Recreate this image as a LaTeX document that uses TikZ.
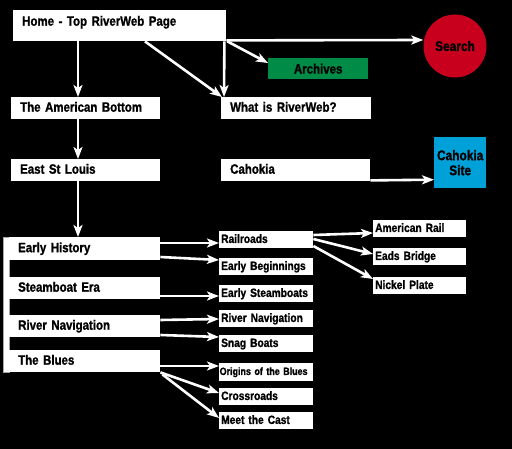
\documentclass[tikz,border=0pt]{standalone}
\usepackage{fontspec}
\setmainfont{Liberation Sans}[FakeStretch=0.85, BoldFeatures={FakeBold=1.2}]
\usetikzlibrary{arrows.meta}

\newcommand{\rwbig}{\fontsize{13.5}{15}\selectfont\bfseries}
\newcommand{\rwhuge}{\fontsize{14}{15}\selectfont\bfseries}
\newcommand{\rwsmall}{\fontsize{12}{13}\selectfont\bfseries}
\newcommand{\rwtiny}{\fontsize{10.5}{12}\selectfont\bfseries}

\definecolor{searchred}{RGB}{200,0,30}
\definecolor{archgreen}{RGB}{0,140,70}
\definecolor{siteblue}{RGB}{0,160,216}

\tikzset{
    mainbox/.style={fill=white, text=black, anchor=north west, font=\rwbig, align=left,
        text width=#1, inner xsep=9pt, inner ysep=5pt, text height=9.5pt, text depth=2.5pt},
    mainbox/.default=131pt,
    subbox/.style={fill=white, text=black, anchor=north west, font=\rwsmall, align=left,
        text width=#1, inner xsep=2pt, inner ysep=2.75pt, text height=9pt, text depth=2.5pt},
    subbox/.default=90pt,
    link/.style={draw=white, line width=2.6pt, -{Stealth[length=12pt,width=9pt,inset=3pt]}},
}

\begin{document}
\begin{tikzpicture}[x=1pt,y=-1pt]
    \fill[black] (0,0) rectangle (512,449);
    \useasboundingbox (0,0) rectangle (512,449);

    % top row
    \node[mainbox=195pt, inner ysep=6pt, text depth=9.5pt] (home) at (13,10) {Home - Top RiverWeb Page};
    \node[circle, fill=searchred, text=black, font=\rwhuge, minimum size=63pt, inner sep=0pt] (search) at (455,46) {Search};
    \node[fill=archgreen, text=black, font=\rwbig, anchor=north west, minimum width=100pt, minimum height=21pt, inner sep=0pt] (arch) at (268,58) {Archives};

    % second and third rows
    \node[mainbox] (amer) at (11,97) {The American Bottom};
    \node[mainbox=132pt] (what) at (221,97) {What is RiverWeb?};
    \node[mainbox] (east) at (11,159) {East St Louis};
    \node[mainbox=131pt] (cah) at (221,159) {Cahokia};
    \node[fill=siteblue, text=black, font=\rwhuge, align=center, anchor=north west, minimum width=52pt, minimum height=51pt, inner sep=0pt] (site) at (434,137) {Cahokia\\Site};

    % left group
    \node[fill=white, draw=gray!70, line width=0.6pt, anchor=north west, minimum width=6pt, minimum height=135pt, inner sep=0pt] (bar) at (3,237) {};
    \node[mainbox=133pt, minimum height=23pt] (hist) at (9,237) {Early History};
    \node[mainbox=133pt] (steam) at (9,277) {Steamboat Era};
    \node[mainbox=133pt] (rnav) at (9,315) {River Navigation};
    \node[mainbox=133pt] (blues) at (9,350) {The Blues};

    % right column
    \node[subbox] (rail) at (219,231) {Railroads};
    \node[subbox] (begin) at (219,258) {Early Beginnings};
    \node[subbox] (esteam) at (219,285) {Early Steamboats};
    \node[subbox] (rnavb) at (219,310) {River Navigation};
    \node[subbox] (snag) at (219,335) {Snag Boats};
    \node[subbox=93pt, inner xsep=0.5pt, font=\rwtiny, text depth=3.5pt] (origin) at (219,363) {Origins of the Blues};
    \node[subbox] (cross) at (219,388) {Crossroads};
    \node[subbox] (cast) at (219,412) {Meet the Cast};

    \node[subbox=89pt] (arail) at (373,220) {American Rail};
    \node[subbox=89pt] (eads) at (373,248) {Eads Bridge};
    \node[subbox=89pt] (nickel) at (373,277) {Nickel Plate};

    % links from home
    \draw[link] ([xshift=65pt]home.south west) -- ([xshift=67pt]amer.north west);
    \draw[link] ([xshift=132pt]home.south west) -- ([xshift=1pt]what.north west);
    \draw[link] ([xshift=-2pt]home.south east) -- ([xshift=3pt]what.north west);
    \draw[link] ([yshift=1pt]home.south east) -- ([yshift=6pt]search.west);
    \draw[link] ([xshift=1pt]home.south east) -- ([yshift=-5pt]arch.north west);

    \draw[link] ([xshift=67pt]amer.south west) -- ([xshift=67pt]east.north west);
    \draw[link] ([xshift=67pt]east.south west) -- ([xshift=69pt]hist.north west);
    \draw[link] ([yshift=1pt]cah.south east) -- ([yshift=-17pt]site.west);

    % links from the left group
    \draw[link] ([yshift=-6pt]hist.north east) -- ([yshift=-12pt]rail.north west);
    \draw[link] ([yshift=-20pt]hist.north east) -- ([yshift=-2pt]begin.north west);
    \draw[link] ([yshift=-19pt]steam.north east) -- ([yshift=-11pt]esteam.north west);
    \draw[link] ([yshift=-5pt]rnav.north east) -- ([yshift=-9pt]rnavb.north west);
    \draw[link] ([yshift=-20pt]rnav.north east) -- ([yshift=-2pt]snag.north west);
    \draw[link] ([yshift=-16pt]blues.north east) -- ([yshift=-3pt]origin.north west);
    \draw[link] (blues.south east) -- ([yshift=-5pt]cross.north west);
    \draw[link] ([xshift=2pt,yshift=-2pt]blues.south east) -- ([yshift=-6pt]cast.north west);

    % links from railroads
    \draw[link] ([yshift=-4pt]rail.north east) -- ([yshift=-13pt]arail.north west);
    \draw[link] ([yshift=-8pt]rail.north east) -- ([yshift=-6pt]eads.north west);
    \draw[link] ([yshift=-15pt]rail.north east) -- ([yshift=-2pt]nickel.north west);
\end{tikzpicture}
\end{document}
